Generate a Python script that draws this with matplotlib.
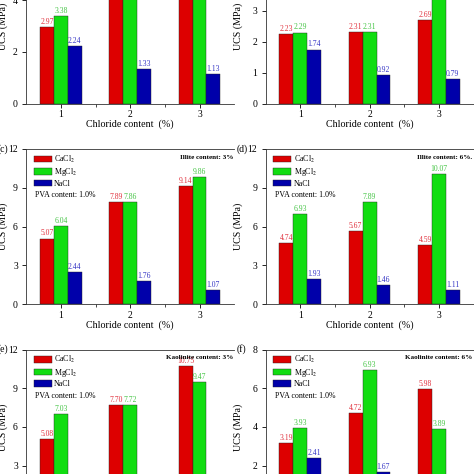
import numpy as np
import matplotlib
matplotlib.use('Agg')
import matplotlib.pyplot as plt

plt.rcParams['font.family'] = ['Liberation Serif', 'DejaVu Serif']
plt.rcParams['mathtext.fontset'] = 'stix'

# chloride content (%) on the x axis
chloride = [1, 2, 3]
series_names = ['CaCl$_2$', 'MgCl$_2$', 'NaCl']

# UCS (MPa); values hidden by the crop are guesses
ucs_a = {'CaCl2': [2.97, 4.52, 4.86], 'MgCl2': [3.38, 4.61, 5.12], 'NaCl': [2.24, 1.33, 1.13]}
ucs_b = {'CaCl2': [2.23, 2.31, 2.69], 'MgCl2': [2.29, 2.31, 4.08], 'NaCl': [1.74, 0.92, 0.79]}
ucs_c = {'CaCl2': [5.07, 7.89, 9.14], 'MgCl2': [6.04, 7.86, 9.86], 'NaCl': [2.44, 1.76, 1.07]}
ucs_d = {'CaCl2': [4.74, 5.67, 4.59], 'MgCl2': [6.93, 7.89, 10.07], 'NaCl': [1.93, 1.46, 1.11]}
ucs_e = {'CaCl2': [5.08, 7.70, 10.75], 'MgCl2': [7.03, 7.72, 9.47], 'NaCl': [1.52, 1.21, 0.93]}
ucs_f = {'CaCl2': [3.19, 4.72, 5.98], 'MgCl2': [3.93, 6.93, 3.89], 'NaCl': [2.41, 1.67, 1.02]}

panel_tags = ['(a)', '(b)', '(c)', '(d)', '(e)', '(f)']
clay_notes = ['', '', 'Illite content: 3%', 'Illite content: 6%.',
              'Kaolinite content: 3%', 'Kaolinite content: 6%']
y_tops = [6, 5, 12, 12, 12, 8]
y_steps = [2, 1, 3, 3, 3, 2]

bar_colors = ['#dd0000', '#11dd11', '#0000aa']
text_colors = ['#e0303c', '#44c444', '#3434c4']

W = H = 474
fig = plt.figure(figsize=(4.74, 4.74), dpi=100)

# axes boxes in pixels: left edge per column, zero line per row
col_left = [26.2, 265.6]
row_zero = [103.5, 304.0, 504.5]
ax_w, ax_h = 208.0, 155.0
ylabel_x = [-0.088, -0.108]

datasets = [ucs_a, ucs_b, ucs_c, ucs_d, ucs_e, ucs_f]
for i, data in enumerate(datasets):
    r, c = divmod(i, 2)
    left = col_left[c] / W
    bottom = 1 - row_zero[r] / H
    ax = fig.add_axes([left, bottom, ax_w / W, ax_h / H])

    x = np.array(chloride)
    width = 0.2
    for k, key in enumerate(['CaCl2', 'MgCl2', 'NaCl']):
        bars = ax.bar(x + (k - 1) * width, data[key], width, color=bar_colors[k],
                      edgecolor='#222222', linewidth=0.3, label=series_names[k])
        ax.bar_label(bars, fmt='%.2f', padding=0.8, fontsize=5.5, color=text_colors[k])

    ax.set_xlim(0.5, 3.5)
    ax.set_ylim(0, y_tops[i])
    ax.set_yticks(np.arange(0, y_tops[i] + 0.01, y_steps[i]))
    ax.set_xticks(chloride)
    ax.set_xticks([1.5, 2.5], minor=True)
    ax.tick_params(axis='both', which='major', direction='out', length=3, width=0.6,
                   labelsize=7)
    ax.tick_params(axis='x', which='major', pad=1.8)
    ax.tick_params(axis='y', which='major', pad=3)
    ax.tick_params(axis='x', which='minor', direction='out', length=2, width=0.5)
    for side in ['left', 'bottom', 'top']:
        ax.spines[side].set_linewidth(0.6)
        ax.spines[side].set_color('#333333')
    ax.spines['right'].set_visible(False)

    ax.set_xlabel('Chloride content  (%)', fontsize=7.2, labelpad=0.5)
    ax.set_ylabel('UCS (MPa)', fontsize=7.2)
    ax.yaxis.set_label_coords(ylabel_x[c], 0.5)

    ax.legend(loc='upper left', bbox_to_anchor=(0.013, 1.0), frameon=False,
              fontsize=5.7, handlelength=2.3, handleheight=0.9,
              handletextpad=0.3, labelspacing=0.17, borderaxespad=0.2,
              borderpad=0.4)
    ax.text(0.043, 0.703, 'PVA content: 1.0%', transform=ax.transAxes,
            fontsize=5.7, ha='left', va='center')
    if clay_notes[i]:
        ax.text(0.995, 0.948, clay_notes[i], transform=ax.transAxes,
                fontsize=5.1, fontweight='bold', ha='right', va='center')

    ax.annotate(panel_tags[i], xy=(0, 1), xycoords='axes fraction',
                xytext=(-28.5, 0), textcoords='offset pixels',
                ha='left', va='center', fontsize=7)

fig.savefig('out.png', dpi=100)
